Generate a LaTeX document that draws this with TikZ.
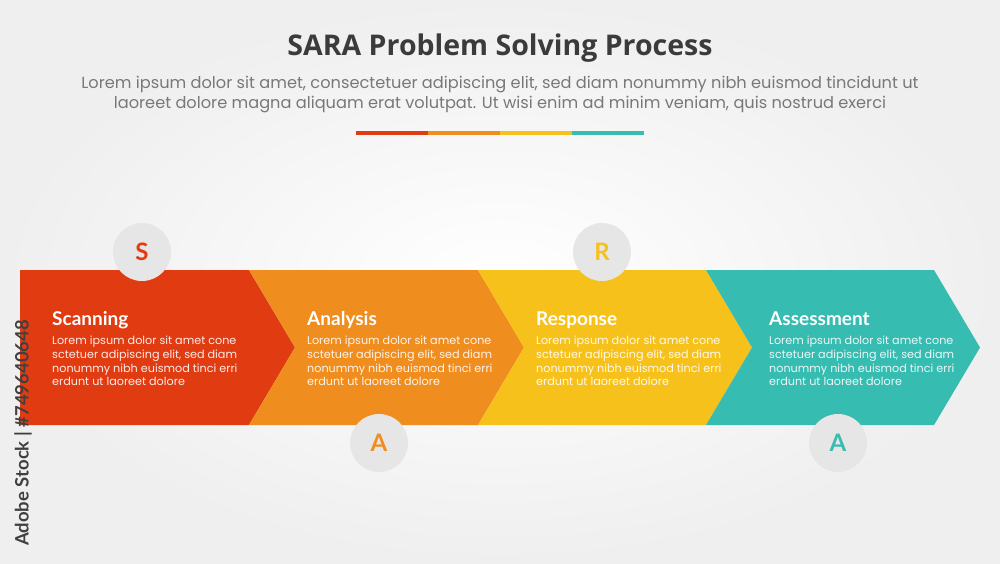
\documentclass[tikz,border=0pt]{standalone}
\usepackage{fontspec}
\setmainfont{Poppins}
\newfontfamily\titlefont{Open Sans}
\newfontfamily\popfont{Poppins}
\newfontfamily\latofont{Lato}
\definecolor{cRed}{HTML}{E13B11}
\definecolor{cOrange}{HTML}{F08D1F}
\definecolor{cYellow}{HTML}{F7C11B}
\definecolor{cTeal}{HTML}{36BCB0}
\definecolor{bgcol}{HTML}{EFEFEF}
\definecolor{circcol}{HTML}{E6E6E6}
\definecolor{titlecol}{HTML}{3B3B3B}
\definecolor{subcol}{HTML}{787878}
\tikzset{
  seg/.style={draw=none},
  circ/.style={circle, fill=circcol, minimum size=58pt, inner sep=0pt, font=\latofont\bfseries\fontsize{24}{24}\selectfont},
  head/.style={anchor=base west, text=white, inner sep=0pt, font=\latofont\bfseries\fontsize{19}{22}\selectfont},
  body/.style={anchor=north west, text=white, text opacity=0.9, inner sep=0pt, align=left, font=\popfont\fontsize{11.2}{13.7}\selectfont},
  bar/.style={line width=4pt}
}
\begin{document}
\begin{tikzpicture}[x=1pt,y=-1pt]
\useasboundingbox (0,0) rectangle (1000,563);
\shade[inner color=white, outer color=bgcol, shading=radial] (0,0) rectangle (1000,563);
% title
\node[font=\titlefont\bfseries\fontsize{28.5}{32}\selectfont, text=titlecol, anchor=base] (title) at (500,55) {SARA Problem Solving Process};
\node[font=\popfont\fontsize{16.2}{20}\selectfont, text=subcol, align=center, anchor=base] (sub) at (500,108) {Lorem ipsum dolor sit amet, consectetuer adipiscing elit, sed diam nonummy nibh euismod tincidunt ut\\laoreet dolore magna aliquam erat volutpat. Ut wisi enim ad minim veniam, quis nostrud exerci};
% color bar
\draw[bar, cRed] (356,133) coordinate (b0) -- (428,133) coordinate (b1);
\draw[bar, cOrange] (b1) -- (500,133) coordinate (b2);
\draw[bar, cYellow] (b2) -- (572,133) coordinate (b3);
\draw[bar, cTeal] (b3) -- (644,133) coordinate (b4);
% segments
\fill[seg, cRed] (20,270) -- (249,270) -- (295,347.5) -- (249,425) -- (20,425) -- cycle;
\fill[seg, cOrange] (249,270) -- (478,270) -- (524,347.5) -- (478,425) -- (249,425) -- (295,347.5) -- cycle;
\fill[seg, cYellow] (478,270) -- (706,270) -- (752,347.5) -- (706,425) -- (478,425) -- (524,347.5) -- cycle;
\fill[seg, cTeal] (706,270) -- (934,270) -- (980,347.5) -- (934,425) -- (706,425) -- (752,347.5) -- cycle;
% circles
\node[circ, text=cRed] (cS) at (142,252) {S};
\node[circ, text=cYellow] (cR) at (602,252) {R};
\node[circ, text=cOrange] (cA1) at (379,443) {A};
\node[circ, text=cTeal] (cA2) at (838,443) {A};
% texts
\node[head] (h1) at (52,325) {Scanning};
\node[head] (h2) at (307,325) {Analysis};
\node[head] (h3) at (536,325) {Response};
\node[head] (h4) at (769,325) {Assessment};
\node[body] (t1) at (52,336) {Lorem ipsum dolor sit amet cone\\sctetuer adipiscing elit, sed diam\\nonummy nibh euismod tinci erri\\erdunt ut laoreet dolore};
\node[body] (t2) at (307,336) {Lorem ipsum dolor sit amet cone\\sctetuer adipiscing elit, sed diam\\nonummy nibh euismod tinci erri\\erdunt ut laoreet dolore};
\node[body] (t3) at (536,336) {Lorem ipsum dolor sit amet cone\\sctetuer adipiscing elit, sed diam\\nonummy nibh euismod tinci erri\\erdunt ut laoreet dolore};
\node[body] (t4) at (769,336) {Lorem ipsum dolor sit amet cone\\sctetuer adipiscing elit, sed diam\\nonummy nibh euismod tinci erri\\erdunt ut laoreet dolore};
% vertical watermark text
\node[rotate=90, font=\latofont\bfseries\fontsize{18.5}{18.5}\selectfont, text=black!75, inner sep=0pt] (wm) at (23,433) {Adobe Stock | \#749640648};
\end{tikzpicture}
\end{document}
